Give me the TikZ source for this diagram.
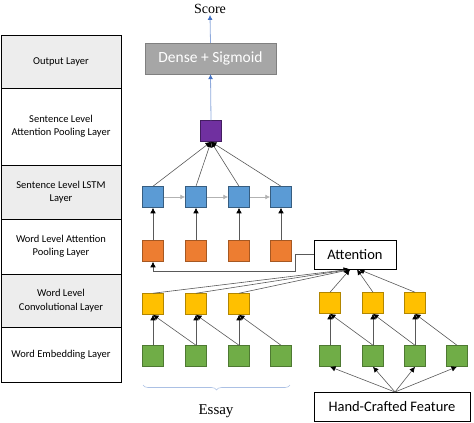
\documentclass[tikz,border=0pt]{standalone}
\usepackage{fontspec}
\setmainfont{Carlito}
\newfontfamily\serifface{Liberation Serif}
\usetikzlibrary{arrows.meta, decorations.pathreplacing}

\definecolor{lstmblue}{HTML}{5B9BD5}
\definecolor{poolorange}{HTML}{ED7D31}
\definecolor{convyellow}{HTML}{FFC000}
\definecolor{embgreen}{HTML}{70AD47}
\definecolor{attpurple}{HTML}{7030A0}
\definecolor{rowgray}{HTML}{EDEDED}
\definecolor{outblue}{HTML}{4472C4}

\begin{document}
\begin{tikzpicture}[x=1pt, y=-1pt,
    layer/.style={draw, line width=0.8pt, minimum width=120pt, inner sep=0pt,
        align=center, font=\fontsize{10.5}{13.5}\selectfont},
    cell/.style={draw, minimum size=21pt, inner sep=0pt, line width=0.5pt},
    label box/.style={draw, line width=0.8pt, inner sep=0pt, font=\fontsize{14.5}{16}\selectfont},
    link/.style={draw=black!65, line width=0.6pt, -{Latex[color=black, length=5.5pt, width=5.5pt]}},
    chain/.style={draw=black!30, line width=0.8pt, -{Latex[length=5pt, width=5pt]}},
    outarrow/.style={draw=outblue!60, line width=0.8pt, -{Latex[color=outblue, length=5pt, width=5pt]}}]

    \useasboundingbox (0,0) rectangle (474,423);

    % Layer names on the left
    \node[layer, fill=rowgray, minimum height=53pt] (lout) at (61,61.5) {Output Layer};
    \node[layer, fill=white, minimum height=77pt] (lsatt) at (61,126.5) {Sentence Level\\Attention Pooling Layer};
    \node[layer, fill=rowgray, minimum height=54pt] (llstm) at (61,192) {Sentence Level LSTM\\Layer};
    \node[layer, fill=white, minimum height=55pt] (lwatt) at (61,246.5) {Word Level Attention\\Pooling Layer};
    \node[layer, fill=rowgray, minimum height=53pt] (lconv) at (61,300.5) {Word Level\\Convolutional Layer};
    \node[layer, fill=white, minimum height=55pt] (lemb) at (61,354.5) {Word Embedding Layer};

    % Essay part
    \foreach \i/\x in {1/153, 2/196, 3/239, 4/281} {
        \node[cell, fill=embgreen, draw=embgreen!70!black] (emb\i) at (\x,356) {};
        \node[cell, fill=poolorange, draw=poolorange!70!black] (pool\i) at (\x,251) {};
        \node[cell, fill=lstmblue, draw=lstmblue!60!black] (lstm\i) at (\x,197) {};
    }
    \foreach \i/\x in {1/153, 2/196, 3/239} {
        \node[cell, fill=convyellow, draw=convyellow!70!black] (conv\i) at (\x,304) {};
    }

    % Hand-crafted part
    \foreach \i/\x in {1/330, 2/373, 3/415, 4/457} {
        \node[cell, fill=embgreen, draw=embgreen!70!black] (hemb\i) at (\x,356) {};
    }
    \foreach \i/\x in {1/330, 2/373, 3/415} {
        \node[cell, fill=convyellow, draw=convyellow!70!black] (hconv\i) at (\x,303) {};
    }

    \node[cell, fill=attpurple, draw=attpurple!60!black] (sent) at (211,131) {};
    \node[draw=black!50, fill=black!35, minimum width=131pt, minimum height=31pt,
        text=white, font=\fontsize{15.5}{17}\selectfont] (dense) at (210.5,58.5) {Dense + Sigmoid};
    \node[font=\serifface\fontsize{14}{16}\selectfont, inner sep=1pt] (score) at (210,9) {Score};

    \node[label box, minimum width=82pt, minimum height=29pt] (att) at (355,254.5) {Attention};
    \node[label box, minimum width=156pt, minimum height=29pt] (hand) at (392,406.5) {Hand-Crafted Feature};

    % Convolution windows
    \foreach \i/\j in {1/2, 2/3, 3/4} {
        \draw[link] (emb\i.north) -- (conv\i.south);
        \draw[link] (emb\j.north) -- (conv\i.south);
        \draw[link] (hemb\i.north) -- (hconv\i.south);
        \draw[link] (hemb\j.north) -- (hconv\i.south);
    }

    % Hand-crafted feature into embeddings
    \coordinate (hroot) at (395,392);
    \foreach \i in {1,...,4}
        \draw[link] (hroot) -- (hemb\i.south);

    % Convolutions into attention
    \foreach \i/\dx in {1/-6, 2/-5, 3/-4}
        \draw[link] (conv\i.north) -- ([xshift=\dx pt]att.south);
    \draw[link] (hconv1.north) -- ([xshift=-5pt]att.south);
    \draw[link] (hconv2.north) -- ([xshift=2pt]att.south);
    \draw[link] (hconv3.north) -- ([xshift=4pt]att.south);

    % Attention weights back to word pooling
    \coordinate (bend) at (295,271);
    \draw[link] (att.west) -| (bend) -| (pool1.south);

    % Word pooling into sentence LSTM
    \foreach \i in {1,...,4} {
        \draw[link] (pool\i.north) -- (lstm\i.south);
        \draw[link] (lstm\i.north) -- (sent.south);
    }
    \foreach \i/\j in {1/2, 2/3, 3/4}
        \draw[chain] (lstm\i.east) -- (lstm\j.west);

    % Output
    \draw[outarrow] (sent.north) -- (dense.south);
    \draw[outarrow] (dense.north) -- (score.south);

    % Essay brace
    \draw[draw=outblue!45, line width=0.6pt, decorate,
        decoration={brace, mirror, amplitude=5pt}] (143,385) -- (290,385);
    \node[font=\serifface\fontsize{15}{17}\selectfont] (essay) at (216,411) {Essay};
\end{tikzpicture}
\end{document}
